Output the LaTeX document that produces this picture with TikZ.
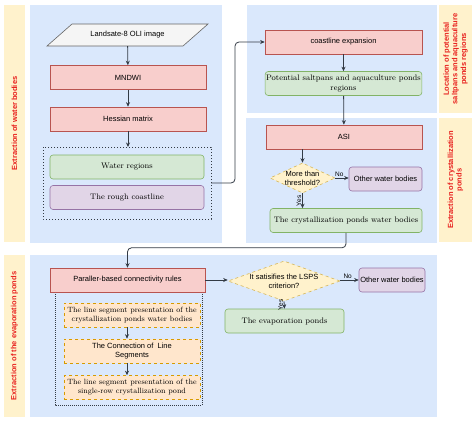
\documentclass[tikz,border=0pt]{standalone}
\usepackage{fontspec}
\newfontfamily\sansfont{Liberation Sans}
\usetikzlibrary{arrows.meta,positioning,shapes.geometric}

\definecolor{blueback}{HTML}{DAE8FC}
\definecolor{yellowback}{HTML}{FFF2CC}
\definecolor{labelred}{HTML}{E8211E}
\definecolor{redfill}{HTML}{F8CECC}
\definecolor{redline}{HTML}{B85450}
\definecolor{greenfill}{HTML}{D5E8D4}
\definecolor{greenline}{HTML}{82B366}
\definecolor{purplefill}{HTML}{E1D5E7}
\definecolor{purpleline}{HTML}{9673A6}
\definecolor{yellowline}{HTML}{D6B656}
\definecolor{orangefill}{HTML}{FFE6CC}
\definecolor{orangeline}{HTML}{D79B00}
\definecolor{grayfill}{HTML}{F5F5F5}
\definecolor{grayline}{HTML}{666666}
\definecolor{wire}{HTML}{333B45}

\tikzset{
  panel/.style={fill=blueback, draw=none},
  strip/.style={fill=yellowback, draw=none},
  striplabel/.style={rotate=90, text=labelred, align=center,
    font=\sansfont\bfseries\fontsize{7.5}{8.6}\selectfont},
  sanstext/.style={font=\sansfont\fontsize{7.5}{9}\selectfont},
  seriftext/.style={font=\fontsize{8}{9.2}\selectfont},
  redbox/.style={sanstext, draw=redline, fill=redfill, line width=0.6pt,
    minimum height=24pt, inner sep=1pt},
  greenbox/.style={seriftext, draw=greenline, fill=greenfill, line width=0.6pt,
    rounded corners=3pt, minimum height=24pt, inner sep=1pt, align=center},
  purplebox/.style={draw=purpleline, fill=purplefill, line width=0.6pt, rounded corners=3pt,
    minimum height=24pt, inner sep=1pt, align=center},
  orangebox/.style={draw=orangeline, fill=orangefill, dashed, line width=0.6pt,
    minimum width=136pt, minimum height=24pt, inner sep=1pt, align=center},
  decision/.style={diamond, draw=yellowline, fill=yellowback, dashed, line width=0.6pt,
    inner sep=0pt},
  group/.style={draw=wire, line width=1pt, dotted},
  flow/.style={draw=wire, line width=0.8pt, -{Stealth[length=4.5pt,width=4pt]}},
  tiny/.style={font=\sansfont\fontsize{6.5}{7}\selectfont, inner sep=1pt}
}

\begin{document}
\begin{tikzpicture}[x=1pt, y=-1pt]
  \useasboundingbox (0,0) rectangle (474,423);

  % panels and side labels
  \fill[strip] (4,5) rectangle (25,242);
  \fill[panel] (30,5) rectangle (222,243);
  \fill[panel] (247,5) rectangle (437,113);
  \fill[strip] (439,5) rectangle (472,113);
  \fill[panel] (246,118) rectangle (437,243);
  \fill[strip] (439,118) rectangle (472,242);
  \fill[strip] (4,255) rectangle (25,417);
  \fill[panel] (30,255) rectangle (437,417);

  \node[striplabel] (lab1) at (14.5,123.5) {Extraction of water bodies};
  \node[striplabel] (lab2) at (455.5,59) {Location of potential\\saltpans and aquaculture\\ponds regions};
  \node[striplabel] (lab3) at (455.5,180) {Extraction of crystallization\\ponds};
  \node[striplabel] (lab4) at (14.5,336) {Extraction of the evaporation ponds};

  % water bodies
  \draw[draw=grayline, fill=grayfill, line width=0.6pt] (47,46) -- (183,46) -- (208,24) -- (72,24) -- cycle;
  \node[sanstext, minimum height=22pt, inner sep=0pt] (img) at (127.5,35) {Landsate-8 OLI image};
  \node[redbox, minimum width=156pt] (mndwi) at (128,77.5) {MNDWI};
  \node[redbox, minimum width=156pt] (hess) at (128,119) {Hessian matrix};
  \draw[group] (43,147) rectangle (211,219);
  \coordinate (grp) at (211,183);
  \node[greenbox, minimum width=154pt] (water) at (127,167) {Water regions};
  \node[purplebox, seriftext, minimum width=154pt] (rough) at (127,197.5) {The rough coastline};

  \draw[flow] (img) -- (mndwi);
  \draw[flow] (mndwi) -- (hess);
  \draw[flow] (hess) -- (hess |- 0,147);

  % saltpans and aquaculture ponds
  \node[redbox, minimum width=157pt] (coast) at (343.5,42) {coastline expansion};
  \node[greenbox, minimum width=155pt] (pot) at (343.5,83.5) {Potential saltpans and aquaculture ponds\\regions};
  \draw[flow, rounded corners=4pt] (grp) -- (235,183) |- (coast.west);
  \draw[flow] (coast) -- (pot);

  % crystallization ponds
  \node[redbox, minimum width=156pt] (asi) at (344,137) {ASI};
  \node[decision, minimum width=65pt, minimum height=30pt] (thr) at (302.5,178) {};
  \node[sanstext, align=center, inner sep=0pt] (thrtxt) at (thr) {More than\\threshold?};
  \node[purplebox, sanstext, minimum width=73pt] (oth1) at (385.5,179) {Other water bodies};
  \node[greenbox, minimum width=152pt] (cryst) at (346,220.5) {The crystallization ponds water bodies};

  \draw[flow] (pot) -- (asi);
  \draw[flow] (asi.south -| thr.north) -- (thr.north);
  \draw[flow] (thr.east) -- node[tiny, above, pos=0.3] {No} (thr.east -| oth1.west);
  \draw[flow] (thr.south) -- node[tiny, rotate=90, anchor=south] {Yes} (thr.south |- cryst.north);

  % evaporation ponds
  \draw[group, densely dotted, line width=0.8pt] (55,280) rectangle (202,405);
  \node[redbox, minimum width=155pt] (rule) at (127.5,280) {Paraller-based connectivity rules};
  \node[orangebox, seriftext, font=\fontsize{7.6}{9}\selectfont] (seg1) at (132,315) {The line segment presentation of the\\crystallization ponds water bodies};
  \node[orangebox, sanstext] (seg2) at (132,351) {The Connection of\ \ Line\\Segments};
  \node[orangebox, seriftext, font=\fontsize{7.6}{9}\selectfont] (seg3) at (132,387.5) {The line segment presentation of the\\single-row crystallization pond};
  \node[decision, minimum width=112pt, minimum height=40pt] (lsps) at (284,281) {};
  \node[sanstext, align=center, inner sep=0pt] (lspstxt) at (lsps) {It satisifies the LSPS\\criterion?};
  \node[purplebox, sanstext, minimum width=66pt] (oth2) at (392,280) {Other water bodies};
  \node[greenbox, minimum width=119pt] (evap) at (284.5,321) {The evaporation ponds};

  \draw[flow, rounded corners=4pt] (cryst.south) -- ++(0,15) -| (rule.north);
  \draw[flow] (seg1.south -| 127,0) -- (seg2.north -| 127,0);
  \draw[flow] (seg2.south -| 127,0) -- (seg3.north -| 127,0);
  \draw[flow] (rule.east) -- (rule.east -| lsps.west);
  \draw[flow] (lsps.east |- oth2.west) -- node[tiny, above, pos=0.4] {No} (oth2.west);
  \draw[flow] (lsps.south) -- node[tiny, rotate=90, anchor=south] {Yes} (evap.north);
\end{tikzpicture}
\end{document}
